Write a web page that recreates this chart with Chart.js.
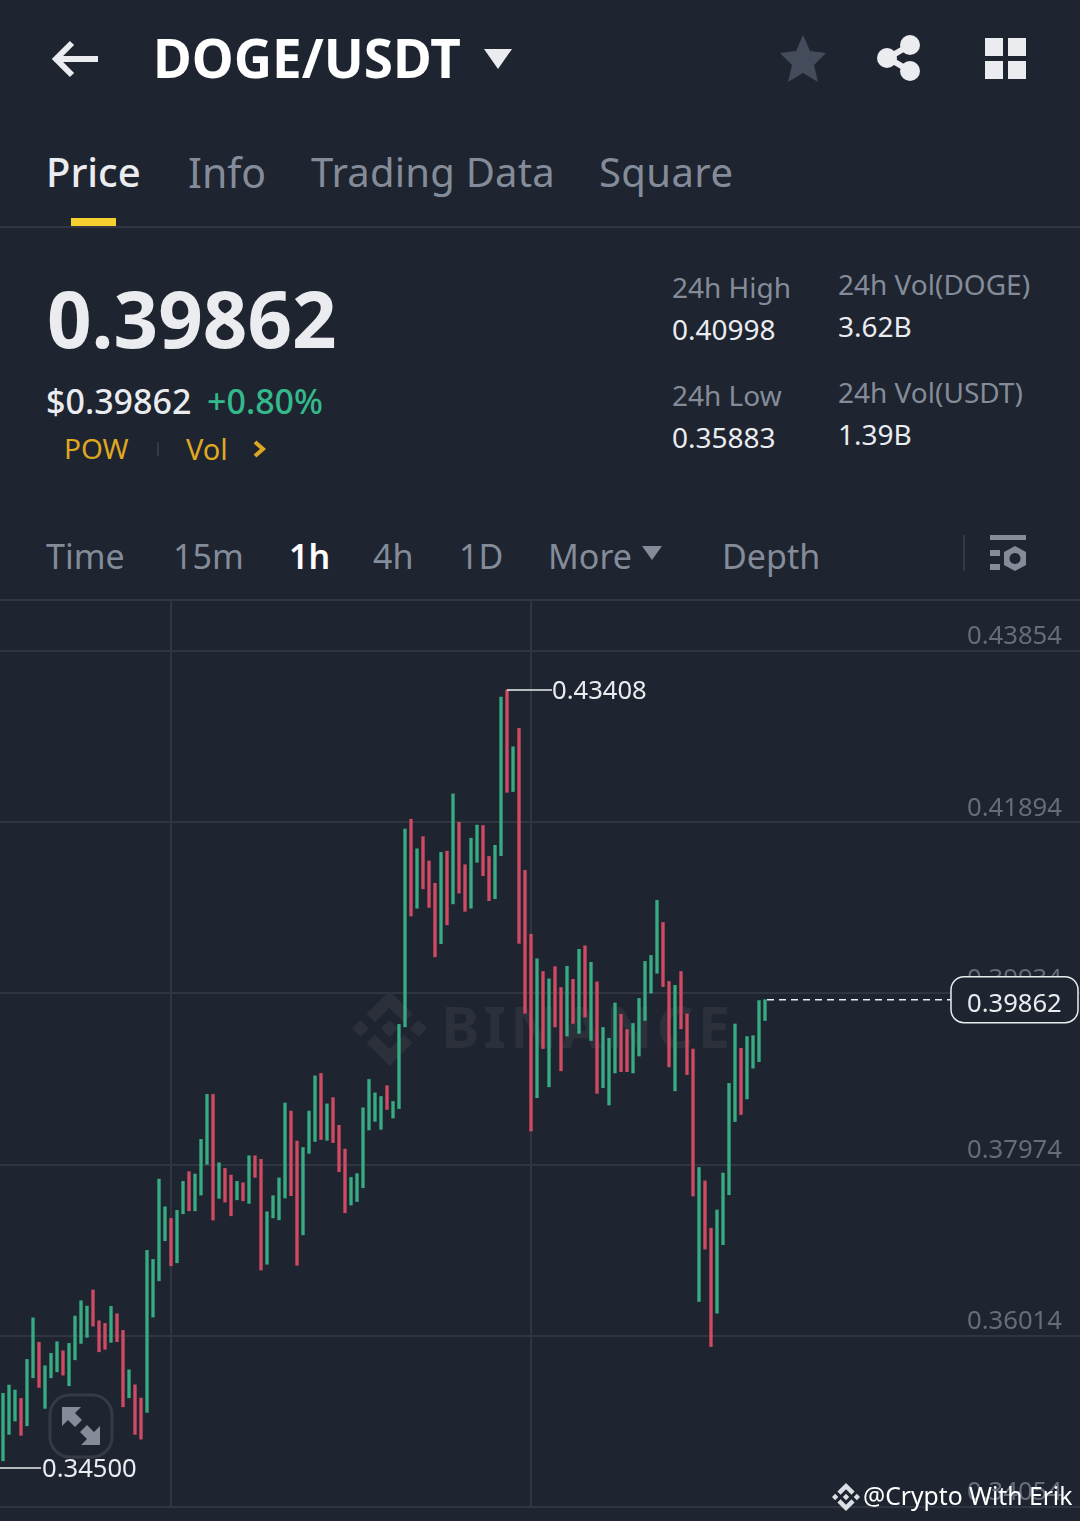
<!DOCTYPE html>
<html>
<head>
<meta charset="utf-8">
<script src="https://cdn.jsdelivr.net/npm/chart.js@4/dist/chart.umd.min.js"></script>
<style>
  html, body { margin: 0; padding: 0; background: #1e2430; }
  body { position: relative; width: 1080px; height: 1521px; overflow: hidden; font-family: "Noto Sans", sans-serif; }
  .t { position: absolute; line-height: 1; white-space: nowrap; color: #848c99; }
  .w { color: #eaecef; }
  .y { color: #dfa821; }
  .line { position: absolute; left: 0; width: 1080px; height: 2px; background: #313742; }
  svg { position: absolute; }
  #priceChart { position: absolute; left: 0; top: 600px; }
</style>
</head>
<body>
<!-- watermark sits under the canvas -->
<svg style="left:352px;top:991px" width="75" height="75" viewBox="0 0 126.6 126.6" fill="#2b303b">
  <path d="M38.7 53.2 L63.3 28.6 L87.9 53.2 L102.2 38.9 L63.3 0 L24.4 38.9 Z M0 63.3 L14.3 49 L28.6 63.3 L14.3 77.6 Z M38.7 73.4 L63.3 98 L87.9 73.4 L102.2 87.7 L63.3 126.6 L24.4 87.7 Z M98 63.3 L112.3 49 L126.6 63.3 L112.3 77.6 Z M77.8 63.3 L63.3 48.8 L48.8 63.3 L63.3 77.8 Z"/>
</svg>
<div class="t" style="left:441px;top:997px;font-size:58px;font-weight:700;letter-spacing:4px;color:#2b303b">BINANCE</div>

<canvas id="priceChart" width="1080" height="921"></canvas>

<!-- header -->
<svg style="left:52px;top:40px" width="48" height="38" viewBox="0 0 48 38" fill="none" stroke="#eaecef" stroke-width="6"><path d="M46 19 H5 M20 3 L4 19 L20 35"/></svg>
<div class="t w" style="left:153px;top:31px;font-size:53px;font-weight:700;color:#fff">DOGE/USDT</div>
<svg style="left:484px;top:49px" width="28" height="20" viewBox="0 0 28 20" fill="#eaecef"><path d="M0 0 H28 L14 20 Z"/></svg>
<svg style="left:780px;top:35px" width="46" height="47" viewBox="0 0 46 47" fill="#444c5c"><path d="M23 0 L30 16 L46 18 L34 30 L38 47 L23 38 L8 47 L12 30 L0 18 L16 16 Z"/></svg>
<svg style="left:877px;top:35px" width="44" height="46" viewBox="0 0 44 46"><path d="M33 10 L11 23 L33 36" stroke="#eaecef" stroke-width="6" fill="none"/><circle cx="33" cy="10" r="10" fill="#eaecef"/><circle cx="10" cy="23" r="10" fill="#eaecef"/><circle cx="33" cy="36" r="10" fill="#eaecef"/></svg>
<svg style="left:985px;top:38px" width="41" height="41" viewBox="0 0 41 41" fill="#eaecef"><rect width="18" height="18"/><rect x="23" width="18" height="18"/><rect y="23" width="18" height="18"/><rect x="23" y="23" width="18" height="18"/></svg>

<div class="t w" style="left:46px;top:152px;font-size:40px;font-weight:500">Price</div>
<div class="t" style="left:188px;top:152px;font-size:41px">Info</div>
<div class="t" style="left:311px;top:152px;font-size:40px;letter-spacing:.2px">Trading Data</div>
<div class="t" style="left:599px;top:152px;font-size:40px;letter-spacing:.4px">Square</div>
<div style="position:absolute;left:71px;top:218px;width:45px;height:8px;background:#f6d02f"></div>
<div class="line" style="top:226px"></div>

<div class="t w" style="left:47px;top:279px;font-size:78px;font-weight:700">0.39862</div>
<div class="t w" style="left:46px;top:384px;font-size:34px;font-weight:500">$0.39862</div>
<div class="t" style="left:207px;top:384px;font-size:34px;font-weight:500;color:#33b98a">+0.80%</div>
<div class="t y" style="left:64px;top:434px;font-size:28px">POW</div>
<div style="position:absolute;left:157px;top:442px;width:2px;height:14px;background:#343a45"></div>
<div class="t y" style="left:186px;top:434px;font-size:29px">Vol</div>
<svg style="left:253px;top:440px" width="13" height="18" viewBox="0 0 13 18" fill="none" stroke="#dfa821" stroke-width="4"><path d="M2 2 L10 9 L2 16"/></svg>

<div class="t" style="left:672px;top:273px;font-size:28px">24h High</div>
<div class="t w" style="left:672px;top:315px;font-size:28px">0.40998</div>
<div class="t" style="left:672px;top:381px;font-size:28px">24h Low</div>
<div class="t w" style="left:672px;top:423px;font-size:28px">0.35883</div>
<div class="t" style="left:838px;top:270px;font-size:28px">24h Vol(DOGE)</div>
<div class="t w" style="left:838px;top:312px;font-size:28px">3.62B</div>
<div class="t" style="left:838px;top:378px;font-size:28px">24h Vol(USDT)</div>
<div class="t w" style="left:838px;top:420px;font-size:28px">1.39B</div>

<div class="t" style="left:46px;top:539px;font-size:34px">Time</div>
<div class="t" style="left:173px;top:539px;font-size:34px">15m</div>
<div class="t w" style="left:289px;top:539px;font-size:34px;font-weight:600;color:#fff">1h</div>
<div class="t" style="left:373px;top:539px;font-size:34px">4h</div>
<div class="t" style="left:459px;top:539px;font-size:34px">1D</div>
<div class="t" style="left:548px;top:539px;font-size:34px">More</div>
<svg style="left:642px;top:546px" width="20" height="14" viewBox="0 0 20 14" fill="#848c99"><path d="M0 0 H20 L10 14 Z"/></svg>
<div class="t" style="left:722px;top:539px;font-size:34px">Depth</div>
<div style="position:absolute;left:963px;top:535px;width:2px;height:36px;background:#343a45"></div>
<svg style="left:990px;top:535px" width="38" height="37" viewBox="0 0 38 37" fill="#848c99"><rect width="36" height="5"/><rect y="15" width="10" height="6"/><rect y="29" width="10" height="6"/><path d="M25 11 L36 17 V30 L25 36 L14 30 V17 Z M25 18 a5.5 5.5 0 1 0 0.01 0 Z" fill-rule="evenodd"/></svg>
<div class="line" style="top:599px"></div>

<!-- expand button and corner credit -->
<svg style="left:48px;top:1393px" width="66" height="66" viewBox="0 0 66 66">
  <rect x="2" y="2" width="62" height="62" rx="20" fill="none" stroke="#343a46" stroke-width="3"/>
  <path d="M14 14 H33 L27 20 L34 27 L27 34 L20 27 L14 33 Z M52 52 H33 L39 46 L32 39 L39 32 L46 39 L52 33 Z" fill="#848c99"/>
</svg>
<svg style="left:832px;top:1483px" width="28" height="28" viewBox="0 0 126.6 126.6" fill="#dcdfe3">
  <path d="M38.7 53.2 L63.3 28.6 L87.9 53.2 L102.2 38.9 L63.3 0 L24.4 38.9 Z M0 63.3 L14.3 49 L28.6 63.3 L14.3 77.6 Z M38.7 73.4 L63.3 98 L87.9 73.4 L102.2 87.7 L63.3 126.6 L24.4 87.7 Z M98 63.3 L112.3 49 L126.6 63.3 L112.3 77.6 Z M77.8 63.3 L63.3 48.8 L48.8 63.3 L63.3 77.8 Z"/>
</svg>
<div class="t" style="left:863px;top:1484px;font-size:24.7px;color:#fff">@Crypto With Erik</div>

<script>
const tickValues = [0.43854, 0.41894, 0.39934, 0.37974, 0.36014, 0.34054];
const axisMin = 0.34054;
const axisMax = 0.44438;

const lastPrice = 0.39862;
const markHigh = 0.43408;
const markLow = 0.345;

// Candles as seen on the 1h view, left to right
const highs = [
  0.35355, 0.35450, 0.35393, 0.35297, 0.35744, 0.36220, 0.35939, 0.35671, 0.35813, 0.35946,
  0.35842, 0.35927, 0.36240, 0.36415, 0.36354, 0.36538, 0.36186, 0.36156, 0.36351, 0.36266,
  0.36076, 0.35625, 0.35453, 0.35301, 0.36992, 0.36889, 0.37808, 0.37491, 0.37358, 0.37450,
  0.37782, 0.37892, 0.37866, 0.38263, 0.38778, 0.38778, 0.37995, 0.37931, 0.37854, 0.37782,
  0.37766, 0.38075, 0.38075, 0.38034, 0.37434, 0.37618, 0.37822, 0.38679, 0.38587, 0.38244,
  0.38170, 0.38587, 0.38990, 0.39018, 0.38669, 0.38741, 0.38424, 0.38152, 0.37827, 0.37871,
  0.38624, 0.38949, 0.38795, 0.38754, 0.38877, 0.38697, 0.39579, 0.41816, 0.41928, 0.41589,
  0.41729, 0.41450, 0.41195, 0.41548, 0.41562, 0.42218, 0.41893, 0.41407, 0.41711, 0.41861,
  0.41856, 0.41502, 0.41629, 0.43327, 0.43408, 0.42757, 0.42968, 0.41343, 0.40611, 0.40330,
  0.40185, 0.40101, 0.40240, 0.40001, 0.40245, 0.40096, 0.40439, 0.40479, 0.40290, 0.40066,
  0.39544, 0.39421, 0.39824, 0.39694, 0.39520, 0.39590, 0.39877, 0.40300, 0.40369, 0.40999,
  0.40746, 0.40071, 0.40026, 0.40185, 0.39699, 0.39297, 0.37941, 0.37787, 0.37246, 0.37455,
  0.37877, 0.38904, 0.39584, 0.39306, 0.39440, 0.39450, 0.39852, 0.39862
];
const lows = [
  0.34583, 0.34885, 0.35038, 0.34874, 0.34984, 0.35533, 0.35423, 0.35183, 0.35533, 0.35602,
  0.35564, 0.35442, 0.35739, 0.35927, 0.35996, 0.36125, 0.35831, 0.35859, 0.35939, 0.35946,
  0.35201, 0.35304, 0.34885, 0.34831, 0.35137, 0.36228, 0.36644, 0.37102, 0.36816, 0.36850,
  0.37411, 0.37445, 0.37445, 0.37625, 0.37977, 0.37339, 0.37587, 0.37545, 0.37388, 0.37571,
  0.37560, 0.37530, 0.37828, 0.36767, 0.36833, 0.37364, 0.37342, 0.37591, 0.37618, 0.36821,
  0.37170, 0.38103, 0.38239, 0.38261, 0.38252, 0.38226, 0.37894, 0.37424, 0.37511, 0.37551,
  0.37709, 0.38370, 0.38469, 0.38378, 0.38605, 0.38507, 0.38615, 0.39551, 0.40820, 0.40909,
  0.41131, 0.40918, 0.40353, 0.40503, 0.40719, 0.40959, 0.41082, 0.40874, 0.40909, 0.41435,
  0.41281, 0.40996, 0.41018, 0.41511, 0.42236, 0.42245, 0.40507, 0.39707, 0.38358, 0.38740,
  0.39302, 0.38864, 0.39550, 0.39048, 0.39446, 0.39590, 0.39476, 0.39663, 0.39395, 0.38790,
  0.38855, 0.38656, 0.39023, 0.39038, 0.39038, 0.39023, 0.39217, 0.39624, 0.39937, 0.40165,
  0.40011, 0.39093, 0.38819, 0.39529, 0.39004, 0.37614, 0.36407, 0.37007, 0.35890, 0.36273,
  0.37057, 0.37629, 0.38467, 0.38547, 0.38726, 0.39078, 0.39153, 0.39624
];
// 1 = green candle, 0 = red candle
const rising = [
  1, 1, 1, 0, 1, 1, 0, 1, 1, 1,
  0, 1, 1, 1, 1, 0, 0, 0, 1, 0,
  0, 1, 0, 0, 1, 1, 1, 1, 0, 1,
  1, 0, 1, 1, 1, 0, 1, 0, 0, 1,
  0, 1, 0, 0, 1, 1, 1, 1, 0, 0,
  1, 1, 1, 0, 1, 0, 0, 0, 1, 1,
  1, 1, 1, 1, 0, 1, 1, 1, 0, 1,
  0, 0, 0, 1, 0, 1, 0, 0, 1, 1,
  0, 0, 1, 1, 0, 1, 0, 0, 0, 1,
  0, 1, 0, 0, 1, 0, 1, 0, 1, 0,
  1, 1, 1, 0, 0, 1, 1, 1, 1, 1,
  0, 0, 1, 0, 0, 0, 1, 0, 0, 1,
  1, 1, 1, 0, 1, 1, 1, 1
];

const emptySlots = 52; // free room right of the last candle
const gridCandles = [28, 88]; // the two vertical grid lines

const categories = [];
for (let i = 0; i < highs.length + emptySlots; i++) categories.push(String(i));

const green = '#37ab81';
const red = '#cf4a62';
const gridColor = '#2f3541';

// leader lines and the boxed last price
const priceMarks = {
  id: 'priceMarks',
  afterDraw(chart) {
    const ctx = chart.ctx;
    const x = chart.scales.x;
    const y = chart.scales.y;
    ctx.save();
    ctx.font = '25.6px "Noto Sans"';
    ctx.textBaseline = 'middle';
    ctx.strokeStyle = '#eaecef';
    ctx.fillStyle = '#eaecef';
    ctx.lineWidth = 1.5;

    const hy = y.getPixelForValue(markHigh);
    const hx = x.getPixelForValue(84);
    ctx.beginPath();
    ctx.moveTo(hx, hy);
    ctx.lineTo(hx + 45, hy);
    ctx.stroke();
    ctx.fillText(markHigh.toFixed(5), hx + 45, hy + 2);

    const ly = y.getPixelForValue(markLow);
    ctx.beginPath();
    ctx.moveTo(0, ly);
    ctx.lineTo(41, ly);
    ctx.stroke();
    ctx.fillText(markLow.toFixed(5), 42, ly + 2);

    const py = y.getPixelForValue(lastPrice);
    const px = x.getPixelForValue(highs.length - 1);
    ctx.setLineDash([7, 5]);
    ctx.beginPath();
    ctx.moveTo(px + 2, py);
    ctx.lineTo(951, py);
    ctx.stroke();
    ctx.setLineDash([]);

    ctx.beginPath();
    ctx.roundRect(951, py - 23, 127, 46, 13);
    ctx.fillStyle = '#1e2430';
    ctx.fill();
    ctx.stroke();
    ctx.fillStyle = '#eaecef';
    ctx.fillText(lastPrice.toFixed(5), 967, py + 5);
    ctx.restore();
  }
};

new Chart(document.getElementById('priceChart'), {
  type: 'bar',
  data: {
    labels: categories,
    datasets: [{
      data: lows.map((low, i) => [low, highs[i]]),
      backgroundColor: rising.map(up => (up ? green : red)),
      barThickness: 2.7,
      borderSkipped: false
    }]
  },
  options: {
    responsive: false,
    animation: false,
    layout: { padding: { left: 0, right: 0, top: 0, bottom: 14 } },
    plugins: { legend: { display: false }, tooltip: { enabled: false } },
    scales: {
      x: {
        offset: true,
        afterBuildTicks(axis) {
          axis.ticks = gridCandles.map(v => ({ value: v }));
        },
        ticks: { display: false, autoSkip: false },
        border: { display: false },
        grid: { color: gridColor, lineWidth: 2, offset: false, drawTicks: false }
      },
      y: {
        position: 'right',
        min: axisMin,
        max: axisMax,
        afterBuildTicks(axis) {
          axis.ticks = tickValues.map(v => ({ value: v }));
        },
        // labels float inside the plot, so the axis should take no room
        afterFit(axis) {
          axis.width = 0;
          axis.paddingTop = 0;
          axis.paddingBottom = 0;
          axis.paddingLeft = 0;
          axis.paddingRight = 0;
        },
        ticks: {
          mirror: true,
          padding: -18,
          labelOffset: -14,
          color: '#666d7a',
          font: { family: '"Noto Sans"', size: 25.7 },
          callback: v => v.toFixed(5)
        },
        border: { display: false },
        grid: { color: gridColor, lineWidth: 2, drawTicks: false }
      }
    }
  },
  plugins: [priceMarks]
});
</script>
</body>
</html>
